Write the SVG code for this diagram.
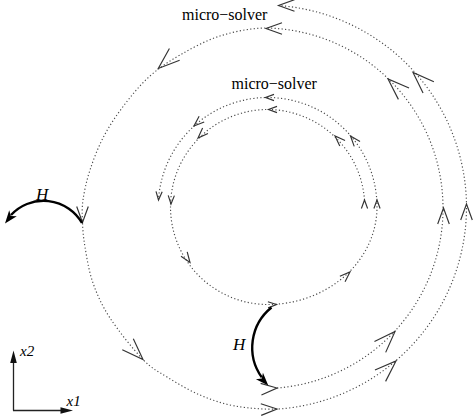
<svg xmlns="http://www.w3.org/2000/svg" width="474" height="417" viewBox="0 0 474 417">
<style>
.dot{fill:none;stroke:#4a4a4a;stroke-width:1.15;stroke-dasharray:1.2 2.3}
.v{fill:none;stroke:#333;stroke-width:1.15}
.h{fill:none;stroke:#000;stroke-width:2.4}
.hh{fill:#000}
.lab{font-family:"Liberation Serif","Times New Roman",serif;font-size:16px;fill:#000}
.it{font-family:"Liberation Serif","Times New Roman",serif;font-style:italic;fill:#000}
.ax{stroke:#222;stroke-width:1.3;fill:none}
</style>
<defs>
<path id="va" d="M-21.5,-7.8 L0,0 L-21.5,7.8"/>
<path id="vb" d="M-16,-5.8 L0,0 L-16,5.8"/>
<path id="vm" d="M-10.3,-3.8 L0,0 L-10.3,3.8"/>
<path id="vs" d="M-8.5,-3.1 L0,0 L-8.5,3.1"/>
<path id="hd" d="M0,0 L-13,-4.8 L-9.5,0 L-13,4.8 Z"/>
</defs>
<g id="connectors">
<g id="outer-trajectory">
<path class="dot" d="M277 388 A180 180 0 0 0 443 208 A180 180 0 0 0 266 28 C251 28 234.3 31.5 220 36 C205.7 40.5 191.7 48.3 180 55 C168.3 61.7 159.2 67.8 150 76 C140.8 84.2 132.7 94 125 104 C117.3 114 109.8 125 104 136 C98.2 147 93.5 159.3 90 170 C86.5 180.7 84.3 191.3 83 200 C81.8 208.7 82.2 214.2 82.5 222 C82.8 229.8 83.25 236.8 85 247 C86.75 257.2 88.8 271.2 93 283 C97.2 294.8 101.7 305.25 110 318 C118.3 330.75 133.5 349.7 143 359.5 C152.5 369.3 157.5 371.1 167 377 C176.5 382.9 188.7 390.2 200 395 C211.3 399.8 222.2 403.7 235 406 C247.8 408.3 264 409.5 277 409.1 A202.5 202.5 0 0 0 466.5 207 A202.5 202.5 0 0 0 278.5 5.5"/>
<use href="#vb" class="v" transform="translate(277,388) rotate(-4)"/>
<use href="#va" class="v" transform="translate(395,331.5) rotate(-46)"/>
<use href="#vb" class="v" transform="translate(443.5,208) rotate(-90)"/>
<use href="#va" class="v" transform="translate(388,79) rotate(-137)"/>
<use href="#vb" class="v" transform="translate(266,28.5) rotate(180)"/>
<use href="#va" class="v" transform="translate(158.3,68.5) rotate(139)"/>
<use href="#vb" class="v" transform="translate(82.5,222.5) rotate(90)"/>
<use href="#va" class="v" transform="translate(143,359.5) rotate(45)"/>
<use href="#vb" class="v" transform="translate(277,409) rotate(-2)"/>
<use href="#va" class="v" transform="translate(396,361) rotate(-43)"/>
<use href="#vb" class="v" transform="translate(466.5,204) rotate(-90)"/>
<use href="#va" class="v" transform="translate(413,72.5) rotate(-136)"/>
<use href="#vb" class="v" transform="translate(278.5,5.5) rotate(180)"/>
</g>
<g id="inner-trajectory">
<path class="dot" d="M364.5 200 A97.5 97.5 0 0 0 268 109.5 A97.5 97.5 0 0 0 170.5 207 A97.5 97.5 0 0 0 268 304.5 A109.5 97.5 0 0 0 377 207 A109.5 109.5 0 0 0 267.5 97.5 A109.5 109.5 0 0 0 158.5 200"/>
<use href="#vs" class="v" transform="translate(364.5,200) rotate(-90)"/>
<use href="#vs" class="v" transform="translate(377,200) rotate(-90)"/>
<use href="#vm" class="v" transform="translate(335,136) rotate(-136)"/>
<use href="#vm" class="v" transform="translate(350.5,136) rotate(-130)"/>
<use href="#vs" class="v" transform="translate(268.5,109.5) rotate(180)"/>
<use href="#vs" class="v" transform="translate(265.5,97.5) rotate(180)"/>
<use href="#vm" class="v" transform="translate(194,126) rotate(138)"/>
<use href="#vm" class="v" transform="translate(198,138) rotate(135)"/>
<use href="#vs" class="v" transform="translate(158.5,200) rotate(94)"/>
<use href="#vs" class="v" transform="translate(171,204) rotate(92)"/>
<use href="#vm" class="v" transform="translate(190,262.5) rotate(55)"/>
<use href="#vs" class="v" transform="translate(276.5,304.5) rotate(-2)"/>
<use href="#vm" class="v" transform="translate(350,272) rotate(-43)"/>
</g>
<g id="H-maps">
<path class="h" d="M82 223 A44.4 44.4 0 0 0 11 215"/>
<use href="#hd" class="hh" transform="translate(5,223.5) rotate(128)"/>
<path class="h" d="M271.5 307.5 A51.3 51.3 0 0 0 261.8 377.4"/>
<use href="#hd" class="hh" transform="translate(268.3,385.5) rotate(47)"/>
</g>
</g>
<g id="labels">
<text class="lab" x="182" y="19.5">micro−solver</text>
<text class="lab" x="231.5" y="88.5">micro−solver</text>
<text class="it" font-size="17" x="36" y="200">H</text>
<text class="it" font-size="17" x="233" y="350">H</text>
</g>
<g id="axes">
<path class="ax" d="M13.5 410.5 V362 M13 410.5 H61"/>
<path d="M13.5 350.5 L10.2 363 L16.8 363 Z M73 410.5 L60.5 407.2 L60.5 413.8 Z" fill="#111"/>
<text class="it" font-size="15" x="20" y="355.5">x2</text>
<text class="it" font-size="15" x="66.5" y="405.5">x1</text>
</g>
</svg>
